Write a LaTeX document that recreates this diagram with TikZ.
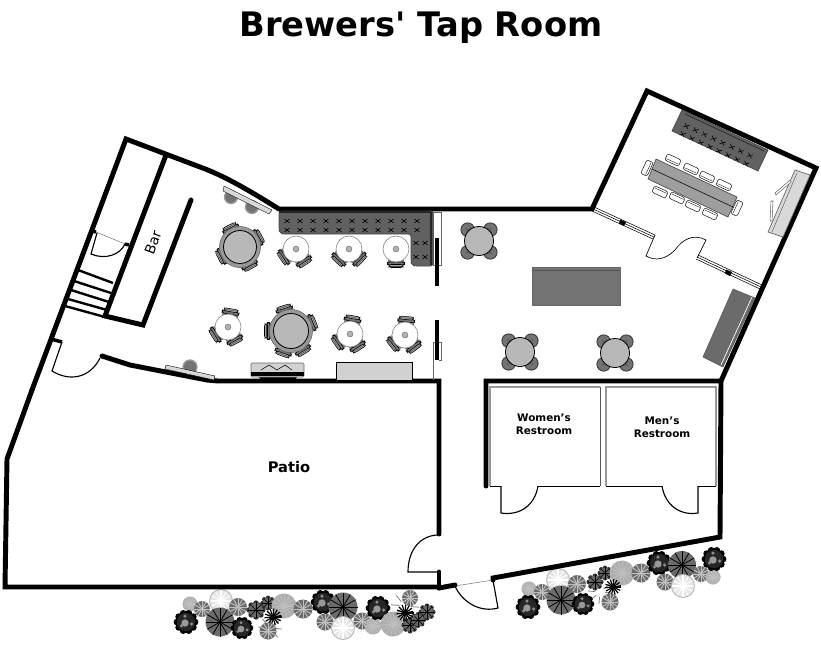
\documentclass[tikz,border=0pt]{standalone}
\usepackage{fontspec}
\setmainfont{DejaVu Sans}
\begin{document}
\begin{tikzpicture}[x=0.75pt,y=-0.75pt,
  wall/.style={line width=3.7pt,line cap=round,line join=miter,black},
  thin wall/.style={line width=2.6pt,black},
  doorline/.style={line width=0.85pt,black},
  hair/.style={line width=0.3pt,gray!70!black},
  roomlabel/.style={font=\bfseries\fontsize{7.8}{9.6}\selectfont,align=center,inner sep=0pt},
  darkfurn/.style={fill=black!62,draw=black!72,line width=0.5pt},
  tuft/.style={line width=0.45pt,black}]
\newcommand\chairP[4]{\begin{scope}[shift={(#1,#2)},rotate=#3]
  \fill[black!52] (#4-8,-8) -- (#4+1,-8) -- (#4+1,8) -- (#4-8,8) -- cycle;
  \draw[fill=black!55,line width=0.45pt,rounded corners=1.5pt] (#4,-8.5) rectangle (#4+3,8.5);
  \draw[fill=black!35,line width=0.4pt,rounded corners=1.5pt] (#4+2.5,-7) rectangle (#4+5.5,7);
  \draw[black!75,line width=0.3pt] (#4+4,-6) -- (#4+4,6);
\end{scope}}
\newcommand\bigT[3]{\fill[black!40] (#1,#2) circle (#3+1.5);
  \draw[fill=black!40,draw=black!60,line width=0.4pt] (#1,#2) circle (#3+1.5);
  \draw[fill=black!28,line width=0.6pt] (#1,#2) circle (#3-2.5);}
\newcommand\smallT[2]{\draw[fill=white,draw=black!45,line width=0.5pt] (#1,#2) circle (13);
  \draw[fill=black!30,draw=black!60,line width=0.3pt] (#1,#2) circle (3);}
\newcommand\quadT[2]{\begin{scope}[shift={(#1,#2)}]
  \foreach \a in {45,135,225,315} {\draw[fill=black!55,draw=black!75,line width=0.7pt] (\a:16) circle (6.8);}
  \fill[black!60] (-13,-13) rectangle (13,13);
  \draw[fill=black!28,draw=black,line width=0.6pt] (0,0) circle (14.5);
\end{scope}}
\newcommand\whitechair[3]{\begin{scope}[shift={(#1,#2)},rotate=#3]
  \draw[fill=white,line width=0.35pt,rounded corners=1.5pt] (-7.5,-3.5) rectangle (7.5,3.5);
  \draw[line width=0.25pt] (-6.5,1.5) -- (6.5,1.5);
\end{scope}}
\newcommand\spoke[7]{\begin{scope}[shift={(#1,#2)}]
  \fill[#4] (0,0) circle (#3);
  \foreach \a in {0,#6,...,359} {\draw[#5,line width=#7pt] (0,0) -- (\a:#3);}
\end{scope}}
\newcommand\lightP[3]{\spoke{#1}{#2}{#3}{black!10}{white}{30}{0.8}\draw[black!28,line width=0.7pt] (#1,#2) circle (#3);}
\newcommand\paleP[3]{\spoke{#1}{#2}{#3}{black!32}{white!75!black}{25}{0.7}}
\newcommand\midP[3]{\spoke{#1}{#2}{#3}{black!58}{black!25}{30}{0.7}}
\newcommand\darkP[3]{\spoke{#1}{#2}{#3}{black!58}{black}{30}{0.6}}
\newcommand\bushP[3]{\begin{scope}[shift={(#1,#2)}]
  \foreach \a in {0,36,...,324} {\fill[black] (\a:#3*0.78) circle (#3*0.3);}
  \fill[black!85] (0,0) circle (#3*0.8);
  \fill[black!40] (-1,1) circle (#3*0.32);
  \foreach \a in {20,140,260} {\fill[black!45] (\a:#3*0.52) circle (#3*0.15);}
\end{scope}}
\newcommand\grayB[3]{\begin{scope}[shift={(#1,#2)}]
  \foreach \a in {0,45,...,315} {\fill[black!80] (\a:#3*0.75) circle (#3*0.32);}
  \fill[black!60] (0,0) circle (#3*0.8);
  \foreach \a in {0,45,...,315} {\draw[black,line width=0.4pt] (0,0) -- (\a:#3*0.9);}
\end{scope}}
\newcommand\blackS[3]{\begin{scope}[shift={(#1,#2)}]
  \foreach \a in {0,25,...,359} {\draw[black,line width=0.9pt] (0,0) -- (\a:#3);}
\end{scope}}
\newcommand\lightS[3]{\begin{scope}[shift={(#1,#2)}]
  \foreach \a in {5,50,...,359} {\draw[black!50,line width=0.6pt] (\a:#3*0.4) -- (\a:#3);}
\end{scope}}
\useasboundingbox (0,0) rectangle (821,644);
\fill[white] (0,0) rectangle (821,644);

\node[font=\bfseries\fontsize{25.3}{30}\selectfont,inner sep=0pt] (title) at (421,28) {Brewers\textquotesingle{} Tap Room};

% ---------- plants, left group
\lightS{270}{628}{12}
\paleP{190}{604}{7.5}\midP{202}{609}{8}\lightP{221}{601}{11.5}\midP{238}{607}{9}
\bushP{186}{622}{11.5}\darkP{220}{622}{14.5}\bushP{242}{628}{10.5}
\grayB{256}{610}{9}\grayB{268}{603}{7}\paleP{284}{606}{12.5}\midP{303}{609}{9.5}
\blackS{273}{617}{8.5}\midP{268}{631}{8.5}
\bushP{323}{602}{11.5}\darkP{343}{607}{14.5}\midP{325}{622}{8.5}\lightP{343}{628}{11.5}
\midP{362}{621}{8.5}\paleP{373}{626}{8.5}\bushP{378}{608}{11.5}\paleP{393}{624}{12.5}
\grayB{410}{625}{8}\grayB{427}{612}{8}\grayB{418}{620}{7.5}
\lightS{405}{606}{14}\midP{410}{598}{8}\blackS{405}{613}{8.5}
% ---------- plants, right group
\lightS{600}{592}{12}
\paleP{529}{589}{7.5}\midP{542}{592}{8}\lightP{558}{580}{11.5}\midP{577}{584}{9}
\bushP{528}{607}{11.5}\darkP{561}{600}{14.5}\bushP{583}{604}{10.5}
\grayB{595}{582}{8}\grayB{605}{573}{7}\paleP{622}{573}{12.5}\midP{641}{573}{9.5}
\blackS{613}{587}{8}\midP{610}{602}{8.5}
\bushP{659}{563}{11.5}\darkP{682}{565}{14}\midP{665}{582}{8.5}\lightP{683}{586}{11.5}
\midP{701}{574}{8}\paleP{713}{577}{7.5}\bushP{714}{559}{11.5}

% ---------- patio, walls
\draw[wall] (439,534) -- (439,381) -- (218,381) -- (207,380) -- (130,365) -- (102,356);
\draw[wall] (439,572) -- (439,588);
\draw[wall] (32,390) -- (7,459) -- (5,587) -- (439,587);
\draw[wall] (439,588) -- (455,585);
\draw[wall] (493,580) -- (493,578) -- (720,537) -- (721,381) -- (486,381) -- (486,486);
\draw[wall] (721,381) -- (816,168) -- (647,91) -- (592,209) -- (279,209)
  .. controls (250,191) and (225,176) .. (200,167) -- (126,139) -- (32,390);
\draw[wall] (166,155) -- (105,316) -- (143,325) -- (191,200);
\draw[thin wall] (51,339) -- (62,342);
\draw[thin wall] (92,231) -- (96,232);
\draw[thin wall] (125,244) -- (129,245);
% stairs
\draw[line width=1.8pt] (78,270) -- (113,283) (74,281) -- (111,293) (71,290) -- (109,302)
   (68,299) -- (107,310) (65,306) -- (105,317);
% doors
\draw[hair] (96,232) -- (125,244);
\draw[doorline] (97,233) -- (91,254) .. controls (105,260) and (120,255) .. (125,244);
\draw[doorline] (62,342) -- (52,371) .. controls (70,382) and (90,378) .. (100,358);
\draw[doorline] (437,535) .. controls (420,536) and (408,550) .. (408,572) -- (438,572);
\draw[hair] (455,586) -- (493,580);
\draw[doorline] (455,586) .. controls (462,602) and (480,613) .. (498,608) -- (493,580);

% ---------- partition
\draw[fill=white,line width=0.35pt,draw=black!60] (433,212) rectangle (441,265);
\draw[fill=white,line width=0.35pt,draw=black!60] (433,342) -- (441,342) -- (441,360) -- (439,360) (433,342) -- (433,380);
\draw[thin wall,line cap=butt] (437,238) -- (437,286);
\draw[thin wall,line cap=butt] (437,320) -- (437,360);

% ---------- banquette
\draw[darkfurn,rounded corners=2pt] (279,211) -- (431,211) -- (433,212) -- (433,266) -- (414,266) -- (411,263) -- (411,234) -- (282,234) -- (279,231) -- cycle;
\draw[line width=1.6pt,black!85] (279,212) -- (431,212) (431,212) -- (431,265);
\foreach \x in {287,300,313,326,339,352,365,378,391,404,417} {\foreach \y in {221,230} {
  \draw[tuft] (\x-2.5,\y-2) -- (\x+2.5,\y+2) (\x-2.5,\y+2) -- (\x+2.5,\y-2);}}
\foreach \x in {416,425} {\foreach \y in {243,257} {
  \draw[tuft] (\x-2.5,\y-2) -- (\x+2.5,\y+2) (\x-2.5,\y+2) -- (\x+2.5,\y-2);}}
% upper row
\chairP{240}{247}{117}{19}\chairP{240}{247}{28}{19}\chairP{240}{247}{-62}{19}\chairP{240}{247}{207}{19}
\bigT{240}{247}{19}
\chairP{296}{249}{214}{13}\chairP{296}{249}{-57}{13}\smallT{296}{249}
\chairP{349}{249}{226}{13}\chairP{349}{249}{-44}{13}\smallT{349}{249}
\chairP{396}{249}{-90}{13}\smallT{396}{249}
% lower row
\chairP{228}{327}{80}{13}\chairP{228}{327}{212}{13}\chairP{228}{327}{-62}{13}\smallT{228}{327}
\chairP{291}{331}{107}{21}\chairP{291}{331}{22}{21}\chairP{291}{331}{-58}{21}\chairP{291}{331}{250}{21}\chairP{291}{331}{180}{21}
\bigT{291}{331}{20}
\chairP{350}{334}{80}{13}\chairP{350}{334}{215}{13}\chairP{350}{334}{-58}{13}\smallT{350}{334}
\chairP{405}{335}{85}{13}\chairP{405}{335}{218}{13}\chairP{405}{335}{-53}{13}\smallT{405}{335}
% stools along walls
\draw[fill=black!55,draw=black!40,line width=1pt] (231,197) circle (6.5);
\draw[fill=black!55,draw=black!40,line width=1pt] (252,207) circle (6.5);
\draw[fill=black!15,line width=0.3pt] (224,186) -- (272,210) -- (269,214) -- (223,191) -- cycle;
\draw[fill=black!55,draw=black!40,line width=1pt] (190,367) circle (7);
\draw[fill=black!15,line width=0.3pt] (166,365) -- (215,376) -- (214,380) -- (165,369) -- cycle;
% sideboard and counter
\fill[black] (258,376) -- (298,376) -- (294,381) -- (262,381) -- cycle;
\draw[fill=black!18,draw=black!60,line width=0.4pt,rounded corners=1pt] (251,363) rectangle (304,377);
\fill[black] (251,372) rectangle (304,376);
\draw[black,line width=0.4pt] (261,370) -- (269,365) -- (277,370) -- (285,365) -- (292,370);
\draw[fill=black!18,line width=0.4pt] (336,362) rectangle (412,380);

% ---------- main room
\quadT{479}{241}\quadT{520}{352}\quadT{615}{353}
\draw[fill=black!55,draw=black!60,line width=0.5pt] (532,267) rectangle (620,305);
\draw[black!68,line width=0.4pt] (532,270) -- (620,270);
% window wall
\draw[line width=0.4pt] (594,207) -- (655,235) (593,209) -- (654,237) (592,211) -- (653,239);
\draw[line width=0.4pt] (698,255) -- (762,285) (697,257) -- (761,287) (696,259) -- (760,289);
\fill[black] (620,219.5) -- (626,222) -- (624,226) -- (619,223.5) -- cycle;
\fill[black] (726,269.5) -- (732,272) -- (730,276) -- (725,273.5) -- cycle;
\draw[line width=0.5pt] (655,235) -- (646,256) .. controls (655,261) and (665,260) .. (675,250)
   .. controls (682,240) and (693,233) .. (706,240) -- (697,258);
% cabinet
\draw[fill=black!58,draw=black!68,line width=0.4pt] (733,289) -- (755,298) -- (723,367) -- (703,357) -- cycle;
\draw[white,line width=0.5pt] (752,297) -- (721,365);

% ---------- back room
\draw[darkfurn] (682,110) -- (768,150) -- (758,171) -- (672,131) -- cycle;
\draw[black!85,line width=0.5pt] (685,114) -- (764,151);
\begin{scope}[shift={(685,122)},rotate=-25]
 \foreach \x in {3,13,...,73} {\foreach \y in {3,12} {
  \draw[tuft] (\x-2.5,\y-2) -- (\x+2.5,\y+2) (\x-2.5,\y+2) -- (\x+2.5,\y-2);}}
\end{scope}
\whitechair{673}{160}{-25}\whitechair{691}{169}{-25}\whitechair{707}{177}{-25}\whitechair{724}{185}{-25}
\whitechair{660}{192}{155}\whitechair{677}{198}{155}\whitechair{693}{206}{155}\whitechair{710}{214}{155}
\whitechair{647}{168}{65}\whitechair{737}{208}{245}
\draw[fill=black!38,draw=black!70,line width=0.5pt] (656,159) -- (737,197) -- (728,217) -- (648,179) -- cycle;
\draw[line width=0.4pt] (652,169) -- (733,207);
\draw[fill=black!15,draw=black!60,line width=0.5pt] (795,170) -- (810,175) -- (783,237) -- (768,232) -- cycle;
\draw[black!60,line width=0.4pt] (772,232) -- (797,173);
\draw[fill=white,draw=black!60,line width=0.4pt] (775,193) -- (790,180) -- (791,182) -- (776,195) -- cycle;
\draw[fill=white,draw=black!60,line width=0.4pt] (771,201) -- (773,201) -- (772,221) -- (770,221) -- cycle;

% ---------- restrooms
\draw[black!40,line width=0.9pt] (490,486) -- (490,387) -- (600,387);
\draw[black!65,line width=0.7pt] (600,387) -- (600,486);
\draw[line width=0.7pt] (490,486) -- (501,486) (538,486) -- (600,486);
\draw[doorline] (501,486) -- (501,513) .. controls (520,516) and (535,505) .. (538,486);
\draw[black!40,line width=0.9pt] (606,486) -- (606,387) -- (716,387) -- (716,486);
\draw[line width=0.7pt] (606,486) -- (662,486) (698,486) -- (716,486);
\draw[doorline] (698,486) -- (698,513) .. controls (680,516) and (665,505) .. (662,486);

% ---------- labels
\node[font=\bfseries\fontsize{11}{13}\selectfont,inner sep=0pt] (patio) at (289,467) {Patio};
\node[font=\fontsize{10.5}{12}\selectfont,inner sep=0pt,rotate=70] (bar) at (153,243) {Bar};
\node[roomlabel] (women) at (544,424.5) {Women's\\Restroom};
\node[roomlabel] (men) at (662,427.5) {Men's\\Restroom};
\end{tikzpicture}
\end{document}
